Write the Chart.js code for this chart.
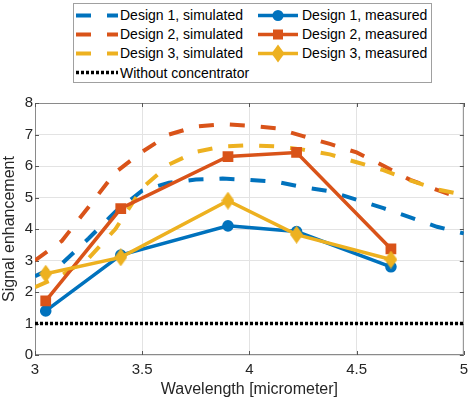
<!DOCTYPE html>
<html>
<head>
<meta charset="utf-8">
<script src="https://cdn.jsdelivr.net/npm/chart.js@4.4.1/dist/chart.umd.min.js"></script>
<style>
  body { margin: 0; background: #fff; font-family: "Liberation Sans", Arial, sans-serif; }
  #wrap { position: relative; width: 474px; height: 399px; }
  #legend { position: absolute; left: 73px; top: 3px; width: 357px; height: 78px; border: 1px solid #a0a0a0; background: #fff; }
  .item { position: absolute; height: 19px; display: flex; align-items: center; font-size: 14px; color: #000; white-space: nowrap; }
</style>
</head>
<body>
<div id="wrap">
  <canvas id="chart" width="474" height="399"></canvas>
  <div id="legend"></div>
</div>
<script>
// Simulated curves
const simWavelength = [3.0, 3.125, 3.25, 3.375, 3.5, 3.625, 3.75, 3.875, 4.0, 4.125, 4.25, 4.375, 4.5, 4.625, 4.75, 4.875, 5.0];
const sim1 = [2.5, 2.9, 3.7, 4.55, 5.22, 5.47, 5.57, 5.6, 5.56, 5.5, 5.33, 5.2, 4.93, 4.66, 4.37, 4.07, 3.86];
const sim2 = [3.0, 3.62, 4.7, 5.8, 6.45, 7.0, 7.25, 7.33, 7.28, 7.2, 6.95, 6.7, 6.43, 6.01, 5.56, 5.24, 4.95];
const sim3 = [2.15, 2.53, 3.07, 4.0, 5.3, 6.05, 6.45, 6.62, 6.66, 6.62, 6.52, 6.37, 6.12, 5.87, 5.54, 5.26, 5.08];

// Measured points
const measWavelength = [3.05, 3.4, 3.9, 4.22, 4.66];
const meas1 = [1.4, 3.17, 4.1, 3.92, 2.8];
const meas2 = [1.72, 4.65, 6.3, 6.43, 3.37];
const meas3 = [2.58, 3.1, 4.9, 3.82, 3.03];

// Reference level
const baseWavelength = [3, 5];
const baseline = [1, 1];

const xTicks = [3, 3.5, 4, 4.5, 5];
const yTicks = [0, 1, 2, 3, 4, 5, 6, 7, 8];

const blue = '#0072BD';
const orange = '#D95319';
const yellow = '#EDB120';

function pts(xs, ys) {
    return xs.map((x, i) => ({ x: x, y: ys[i] }));
}

// MATLAB style diamond, taller than wide
function diamond(color) {
    const c = document.createElement('canvas');
    c.width = 13; c.height = 18;
    const g = c.getContext('2d');
    g.fillStyle = color;
    g.beginPath();
    g.moveTo(6.5, 0); g.lineTo(13, 9); g.lineTo(6.5, 18); g.lineTo(0, 9);
    g.closePath();
    g.fill();
    return c;
}

function simSet(label, ys, color, order) {
    return {
        label: label,
        data: pts(simWavelength, ys),
        borderColor: color,
        borderWidth: 4,
        borderDash: [15, 16],
        pointRadius: 0,
        tension: 0,
        order: order
    };
}

function measSet(label, ys, color, style, radius, order) {
    return {
        label: label,
        data: pts(measWavelength, ys),
        borderColor: color,
        backgroundColor: color,
        borderWidth: 3.5,
        pointStyle: style,
        pointRadius: radius,
        pointBorderWidth: 2,
        tension: 0,
        order: order
    };
}

const datasets = [
    simSet('Design 1, simulated', sim1, blue, 7),
    simSet('Design 2, simulated', sim2, orange, 6),
    simSet('Design 3, simulated', sim3, yellow, 5),
    {
        label: 'Without concentrator',
        data: pts(baseWavelength, baseline),
        borderColor: '#000',
        borderWidth: 3.5,
        borderDash: [3, 2],
        pointRadius: 0,
        order: 0
    },
    measSet('Design 1, measured', meas1, blue, 'circle', 4.8, 3),
    measSet('Design 2, measured', meas2, orange, 'rect', 6.2, 2),
    measSet('Design 3, measured', meas3, yellow, diamond(yellow), 7, 1)
];

// Box round the axes with inward tick marks, like the original
const axesBox = {
    id: 'axesBox',
    beforeDatasetsDraw(chart) {
        const { ctx, chartArea: a, scales } = chart;
        ctx.save();
        ctx.strokeStyle = '#8a8a8a';
        ctx.lineWidth = 1;
        ctx.strokeRect(a.left + 0.5, a.top + 0.5, a.width - 1, a.height - 1);
        ctx.strokeStyle = '#555';
        ctx.beginPath();
        scales.x.ticks.forEach(t => {
            const px = Math.round(scales.x.getPixelForValue(t.value)) + 0.5;
            ctx.moveTo(px, a.bottom); ctx.lineTo(px, a.bottom - 4);
            ctx.moveTo(px, a.top); ctx.lineTo(px, a.top + 4);
        });
        scales.y.ticks.forEach(t => {
            const py = Math.round(scales.y.getPixelForValue(t.value)) + 0.5;
            ctx.moveTo(a.left, py); ctx.lineTo(a.left + 4, py);
            ctx.moveTo(a.right, py); ctx.lineTo(a.right - 4, py);
        });
        ctx.stroke();
        ctx.restore();
    }
};

new Chart(document.getElementById('chart'), {
    type: 'line',
    data: { datasets: datasets },
    plugins: [axesBox],
    options: {
        responsive: false,
        animation: false,
        layout: { padding: { top: 103, right: 5, left: 0, bottom: 0 } },
        plugins: { legend: { display: false }, tooltip: { enabled: false } },
        scales: {
            x: {
                type: 'linear',
                min: 3,
                max: 5,
                afterBuildTicks: (scale) => { scale.ticks = xTicks.map(v => ({ value: v })); },
                afterFit: (scale) => { scale.height = 44; },
                ticks: {
                    padding: 6,
                    color: '#262626',
                    font: { family: 'Liberation Sans', size: 15 },
                    callback: (v) => String(v)
                },
                grid: { color: '#e3e3e3', drawTicks: false },
                border: { display: false },
                title: {
                    display: true,
                    text: 'Wavelength [micrometer]',
                    color: '#262626',
                    padding: 0,
                    font: { family: 'Liberation Sans', size: 16 }
                }
            },
            y: {
                type: 'linear',
                min: 0,
                max: 8,
                afterBuildTicks: (scale) => { scale.ticks = yTicks.map(v => ({ value: v })); },
                afterFit: (scale) => { scale.width = 35; },
                ticks: {
                    padding: 2,
                    color: '#262626',
                    font: { family: 'Liberation Sans', size: 15 },
                    callback: (v) => String(v)
                },
                grid: { color: '#e3e3e3', drawTicks: false },
                border: { display: false },
                title: {
                    display: true,
                    text: 'Signal enhancement',
                    color: '#262626',
                    padding: 0,
                    font: { family: 'Liberation Sans', size: 16 }
                }
            }
        }
    }
});

// Legend: two columns, simulated + reference left, measured right
function sample(ds) {
    const w = ds.pointRadius ? 40 : 42;
    const dash = ds.borderDash ? ` stroke-dasharray="${ds.borderDash.join(' ')}"` : '';
    let svg = `<svg width="${w}" height="19"><line x1="0" y1="9.5" x2="${w}" y2="9.5" stroke="${ds.borderColor}" stroke-width="${ds.borderWidth}"${dash}/>`;
    const c = w / 2;
    if (ds.pointStyle === 'circle') {
        svg += `<circle cx="${c}" cy="9.5" r="5.5" fill="${ds.borderColor}"/>`;
    } else if (ds.pointStyle === 'rect') {
        svg += `<rect x="${c - 5}" y="4.5" width="10" height="10" fill="${ds.borderColor}"/>`;
    } else if (ds.pointStyle instanceof HTMLCanvasElement) {
        svg += `<polygon points="${c},0.5 ${c + 6.5},9.5 ${c},18.5 ${c - 6.5},9.5" fill="${ds.borderColor}"/>`;
    }
    return svg + '</svg>';
}

const legend = document.getElementById('legend');
const rowTops = [1.5, 20.5, 39.5, 59];
datasets.forEach((ds, i) => {
    const col = i < 4 ? 0 : 1;
    const row = col === 0 ? i : i - 4;
    const el = document.createElement('div');
    el.className = 'item';
    el.style.left = (col === 0 ? 2 : 184) + 'px';
    el.style.top = rowTops[row] + 'px';
    el.innerHTML = sample(ds) + `<span style="margin-left:${col === 0 ? 2 : 4}px">${ds.label}</span>`;
    legend.appendChild(el);
});
</script>
</body>
</html>
